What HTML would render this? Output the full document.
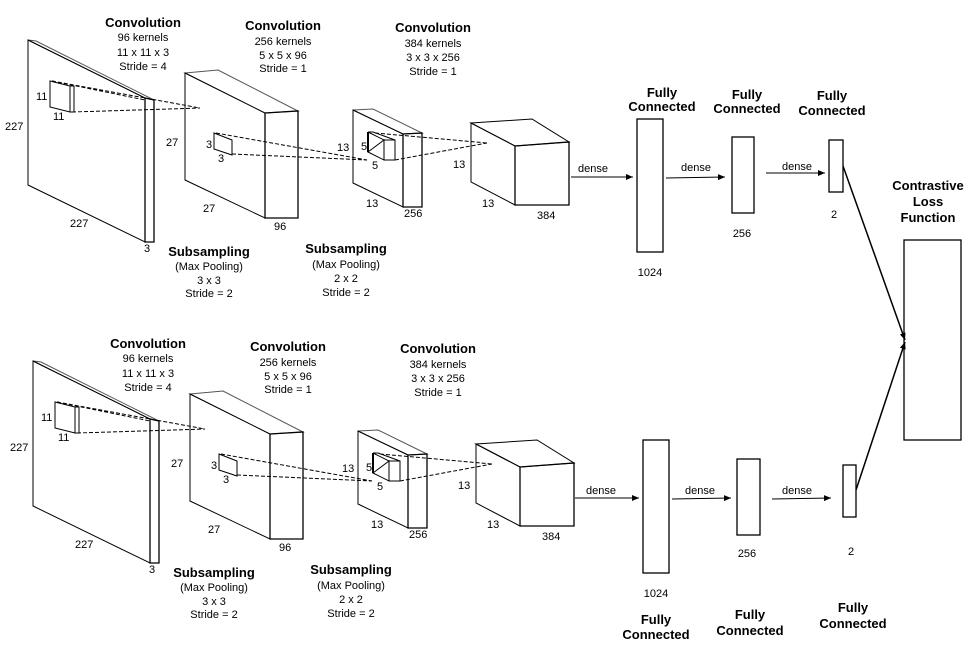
<!DOCTYPE html>
<html><head><meta charset="utf-8"><style>
html,body{margin:0;padding:0;background:#fff;}
svg{display:block;font-family:"Liberation Sans",Arial,sans-serif;}
.b{font-weight:bold;font-size:13px;}
.s{font-size:11px;}
.n{font-size:11px;}
</style></head><body>
<svg width="968" height="662" viewBox="0 0 968 662" xmlns="http://www.w3.org/2000/svg">
<defs>
<marker id="ar" markerWidth="8" markerHeight="8" refX="7" refY="3" orient="auto" markerUnits="userSpaceOnUse"><path d="M0,0 L7,3 L0,6 z" fill="#000"/></marker>
<g id="net" fill="none" stroke="#000">
  <!-- block1 -->
  <polygon points="28,40 36,41 154,100 145,98" stroke="#555" stroke-width="1"/>
  <polygon points="28,40 145,98 145,242 28,185" stroke-width="1"/>
  <polygon points="145,98 154,100 154,242 145,242" stroke-width="1.3"/>
  <!-- kernel1 -->
  <polygon points="50,81 70,86 70,112 50,107" stroke-width="1"/>
  <rect x="70" y="86" width="4" height="26" stroke-width="1"/>
  <path d="M52,81 L200,108 M72,112 L200,108 M52,81 L145,100" stroke-dasharray="4,2" stroke-width="1"/>
  <!-- block2 -->
  <polygon points="185,73 218,70 298,111 265,113" stroke="#555" stroke-width="1"/>
  <polygon points="185,73 265,113 265,218 185,180" stroke-width="1"/>
  <polygon points="265,113 298,111 298,218 265,218" stroke-width="1.3"/>
  <!-- kernel2 -->
  <polygon points="214,133 232,140 232,155 214,149" stroke-width="1"/>
  <path d="M216,133 L367,160 M232,154 L367,160" stroke-dasharray="4,2" stroke-width="1"/>
  <!-- block3 -->
  <polygon points="353,110 373,109 422,133 403,134" stroke="#555" stroke-width="1"/>
  <polygon points="353,110 403,134 403,207 353,183" stroke-width="1"/>
  <polygon points="403,134 422,133 422,207 403,207" stroke-width="1.3"/>
  <!-- kernel3 -->
  <polygon points="368,132 373,132 395,140 384,140" stroke-width="1"/>
  <line x1="368" y1="132" x2="368" y2="152" stroke-width="2"/>
  <polygon points="368,152 384,160 384,140" stroke-width="1"/>
  <rect x="384" y="140" width="11" height="20" stroke-width="1"/>
  <path d="M375,133 L487,143 M395,160 L487,143" stroke-dasharray="4,2" stroke-width="1"/>
  <!-- block4 -->
  <polygon points="471,123 532,119 569,142 515,146" stroke-width="1"/>
  <polygon points="471,123 515,146 515,205 471,182" stroke-width="1"/>
  <polygon points="515,146 569,142 569,205 515,205" stroke-width="1.3"/>
</g>
<g id="lab">
  <text class="b" x="143" y="27" text-anchor="middle">Convolution</text>
  <text class="s" x="143" y="41" text-anchor="middle">96 kernels</text>
  <text class="s" x="143" y="56" text-anchor="middle">11 x 11 x 3</text>
  <text class="s" x="143" y="70" text-anchor="middle">Stride = 4</text>
  <text class="b" x="283" y="30" text-anchor="middle">Convolution</text>
  <text class="s" x="283" y="45" text-anchor="middle">256 kernels</text>
  <text class="s" x="283" y="59" text-anchor="middle">5 x 5 x 96</text>
  <text class="s" x="283" y="72" text-anchor="middle">Stride = 1</text>
  <text class="b" x="433" y="32" text-anchor="middle">Convolution</text>
  <text class="s" x="433" y="47" text-anchor="middle">384 kernels</text>
  <text class="s" x="433" y="61" text-anchor="middle">3 x 3 x 256</text>
  <text class="s" x="433" y="75" text-anchor="middle">Stride = 1</text>
  <text class="n" x="5" y="130">227</text>
  <text class="n" x="36" y="100">11</text>
  <text class="n" x="53" y="120">11</text>
  <text class="n" x="70" y="227">227</text>
  <text class="n" x="144" y="252">3</text>
  <text class="n" x="166" y="146">27</text>
  <text class="n" x="206" y="148">3</text>
  <text class="n" x="218" y="162">3</text>
  <text class="n" x="203" y="212">27</text>
  <text class="n" x="274" y="230">96</text>
  <text class="n" x="337" y="151">13</text>
  <text class="n" x="361" y="150">5</text>
  <text class="n" x="372" y="169">5</text>
  <text class="n" x="366" y="207">13</text>
  <text class="n" x="404" y="217">256</text>
  <text class="n" x="453" y="168">13</text>
  <text class="n" x="482" y="207">13</text>
  <text class="n" x="537" y="219">384</text>
  <text class="b" x="209" y="256" text-anchor="middle">Subsampling</text>
  <text class="s" x="209" y="270" text-anchor="middle">(Max Pooling)</text>
  <text class="s" x="209" y="284" text-anchor="middle">3 x 3</text>
  <text class="s" x="209" y="297" text-anchor="middle">Stride = 2</text>
  <text class="b" x="346" y="253" text-anchor="middle">Subsampling</text>
  <text class="s" x="346" y="268" text-anchor="middle">(Max Pooling)</text>
  <text class="s" x="346" y="282" text-anchor="middle">2 x 2</text>
  <text class="s" x="346" y="296" text-anchor="middle">Stride = 2</text>
</g>
</defs>

<use href="#net"/>
<use href="#lab"/>
<use href="#net" transform="translate(5,321)"/>
<use href="#lab" transform="translate(5,321)"/>

<g fill="none" stroke="#000" stroke-width="1.3">
  <!-- top FCs -->
  <rect x="637" y="119" width="26" height="133"/>
  <rect x="732" y="137" width="22" height="76"/>
  <rect x="829" y="140" width="14" height="52"/>
  <!-- bottom FCs -->
  <rect x="643" y="440" width="26" height="133"/>
  <rect x="737" y="459" width="23" height="76"/>
  <rect x="843" y="465" width="13" height="52"/>
  <!-- loss box -->
  <rect x="904" y="240" width="57" height="200"/>
</g>
<g stroke="#000" stroke-width="1" fill="none">
  <line x1="571" y1="177" x2="633" y2="177" marker-end="url(#ar)"/>
  <line x1="666" y1="178" x2="725" y2="177" marker-end="url(#ar)"/>
  <line x1="766" y1="173" x2="825" y2="173" marker-end="url(#ar)"/>
  <line x1="575" y1="498" x2="639" y2="498" marker-end="url(#ar)"/>
  <line x1="672" y1="499" x2="731" y2="498" marker-end="url(#ar)"/>
  <line x1="772" y1="499" x2="831" y2="498" marker-end="url(#ar)"/>
  <line x1="843" y1="166" x2="905" y2="340" stroke-width="1.5" marker-end="url(#ar)"/>
  <line x1="856" y1="490" x2="905" y2="342" stroke-width="1.5" marker-end="url(#ar)"/>
</g>
<g>
  <text class="s" x="593" y="172" text-anchor="middle">dense</text>
  <text class="s" x="696" y="171" text-anchor="middle">dense</text>
  <text class="s" x="797" y="170" text-anchor="middle">dense</text>
  <text class="s" x="601" y="494" text-anchor="middle">dense</text>
  <text class="s" x="700" y="494" text-anchor="middle">dense</text>
  <text class="s" x="797" y="494" text-anchor="middle">dense</text>
  <text class="b" x="662" y="97" text-anchor="middle">Fully</text>
  <text class="b" x="662" y="111" text-anchor="middle">Connected</text>
  <text class="b" x="747" y="99" text-anchor="middle">Fully</text>
  <text class="b" x="747" y="113" text-anchor="middle">Connected</text>
  <text class="b" x="832" y="100" text-anchor="middle">Fully</text>
  <text class="b" x="832" y="115" text-anchor="middle">Connected</text>
  <text class="s" x="650" y="276" text-anchor="middle">1024</text>
  <text class="s" x="742" y="237" text-anchor="middle">256</text>
  <text class="s" x="834" y="218" text-anchor="middle">2</text>
  <text class="s" x="656" y="597" text-anchor="middle">1024</text>
  <text class="s" x="747" y="557" text-anchor="middle">256</text>
  <text class="s" x="851" y="555" text-anchor="middle">2</text>
  <text class="b" x="656" y="624" text-anchor="middle">Fully</text>
  <text class="b" x="656" y="639" text-anchor="middle">Connected</text>
  <text class="b" x="750" y="619" text-anchor="middle">Fully</text>
  <text class="b" x="750" y="635" text-anchor="middle">Connected</text>
  <text class="b" x="853" y="612" text-anchor="middle">Fully</text>
  <text class="b" x="853" y="628" text-anchor="middle">Connected</text>
  <text class="b" x="928" y="190" text-anchor="middle">Contrastive</text>
  <text class="b" x="928" y="206" text-anchor="middle">Loss</text>
  <text class="b" x="928" y="222" text-anchor="middle">Function</text>
</g>
</svg>
</body></html>
